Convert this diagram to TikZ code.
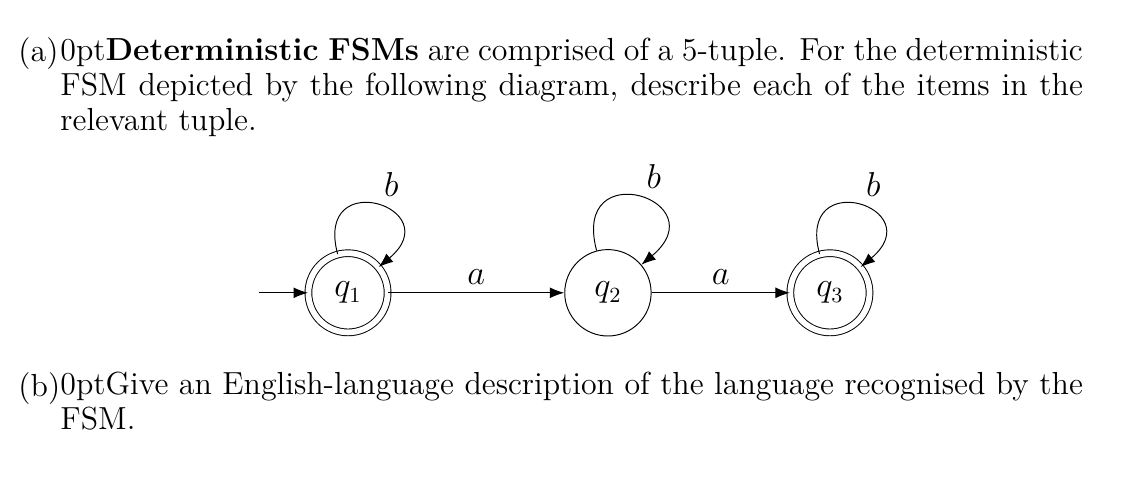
\documentclass[tikz,border=0pt]{standalone}
\usetikzlibrary{arrows.meta,automata}
\begin{document}
\begin{tikzpicture}[x=1pt,y=1pt,
  txt/.style={anchor=north west,inner sep=0pt,text width=426pt,align=justify,font=\fontsize{13.3}{14.6}\selectfont\hyphenpenalty=10000\exhyphenpenalty=10000},
  lbl/.style={anchor=north west,inner sep=0pt,font=\fontsize{13.3}{14.6}\selectfont},
  st/.style={circle,draw,minimum size=36pt,inner sep=0pt,font=\fontsize{13.3}{14.6}\selectfont},
  acc/.style={st,double,double distance=2.4pt,minimum size=33pt},
  tr/.style={-{Latex[length=6pt,width=4.5pt]},thin},
  el/.style={font=\fontsize{13.3}{14.6}\selectfont}]
\useasboundingbox (0,0) rectangle (470,-205);
\node[lbl] (la) at (7.5,-15.5) {(a)};
\node[txt] (pa) at (25,-15.5) {\textbf{Deterministic FSMs} are comprised of a 5-tuple. For the deterministic FSM depicted by the following diagram, describe each of the items in the relevant tuple.};
\node[acc] (q1) at (145,-122) {$q_1$};
\node[st] (q2) at (253.3,-122) {$q_2$};
\node[acc] (q3) at (345.8,-122) {$q_3$};
\coordinate (s) at (108,-122);
\draw[tr] (s) -- (q1);
\draw[tr] (q1) -- node[el,above] {$a$} (q2);
\draw[tr] (q2) -- node[el,above] {$a$} (q3);
\draw[tr] (q1) to[out=105,in=40,looseness=5.5] node[el,above right,pos=0.5] {$b$} (q1);
\draw[tr] (q2) to[out=105,in=40,looseness=5.5] node[el,above right,pos=0.5] {$b$} (q2);
\draw[tr] (q3) to[out=105,in=40,looseness=5.5] node[el,above right,pos=0.5] {$b$} (q3);
\node[lbl] (lb) at (7.5,-155) {(b)};
\node[txt] (pb) at (25,-155) {Give an English-language description of the language recognised by the FSM.};
\end{tikzpicture}
\end{document}
